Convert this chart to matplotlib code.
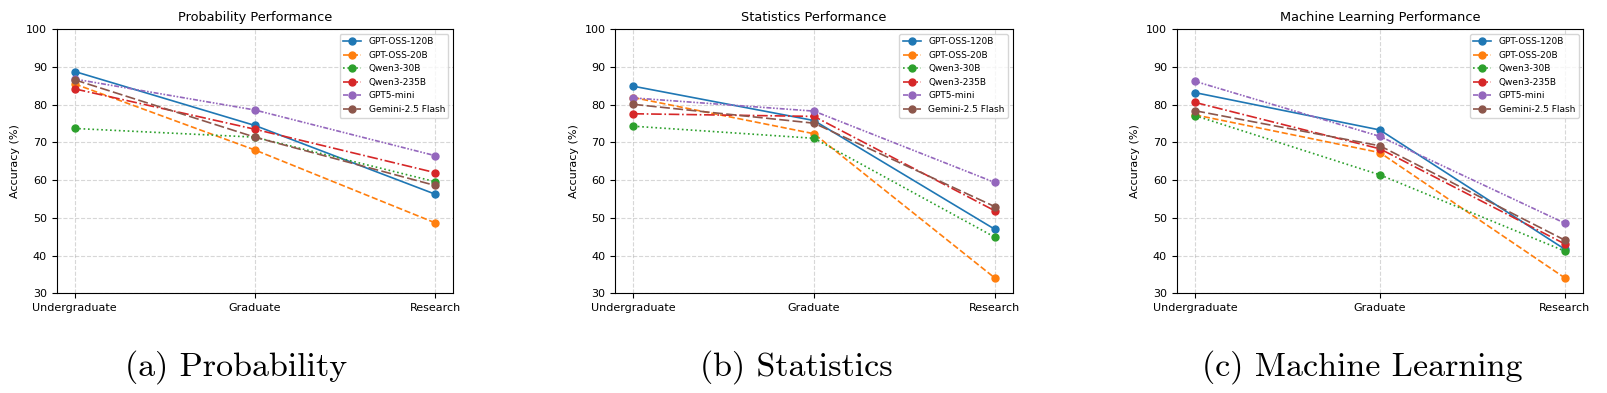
import numpy as np
import matplotlib
matplotlib.use("Agg")
import matplotlib.pyplot as plt

# Datos
niveles = ["Undergraduate", "Graduate", "Research"]
modelos = ["GPT-OSS-120B", "GPT-OSS-20B", "Qwen3-30B", "Qwen3-235B", "GPT5-mini", "Gemini-2.5 Flash"]

prob_120b   = [88.8, 74.5, 56.3]
prob_20b    = [85.5, 68.0, 48.7]
prob_q30b   = [73.7, 71.4, 59.6]
prob_q235b  = [84.2, 73.5, 62.0]
prob_gpt5m  = [86.8, 78.6, 66.5]
prob_gemini = [86.6, 71.4, 58.6]

stat_120b   = [84.9, 75.8, 47.0]
stat_20b    = [81.9, 72.3, 34.1]
stat_q30b   = [74.3, 71.1, 44.9]
stat_q235b  = [77.6, 76.9, 51.9]
stat_gpt5m  = [81.8, 78.3, 59.4]
stat_gemini = [80.1, 75.1, 53.0]

ml_120b   = [83.2, 73.3, 41.7]
ml_20b    = [77.3, 67.3, 34.1]
ml_q30b   = [77.1, 61.4, 41.2]
ml_q235b  = [80.6, 68.3, 43.1]
ml_gpt5m  = [86.2, 71.6, 48.6]
ml_gemini = [78.4, 69.1, 44.1]

titulos = ["Probability Performance", "Statistics Performance", "Machine Learning Performance"]
captions = ["(a) Probability", "(b) Statistics", "(c) Machine Learning"]

datos = [
    [prob_120b, prob_20b, prob_q30b, prob_q235b, prob_gpt5m, prob_gemini],
    [stat_120b, stat_20b, stat_q30b, stat_q235b, stat_gpt5m, stat_gemini],
    [ml_120b, ml_20b, ml_q30b, ml_q235b, ml_gpt5m, ml_gemini],
]

colores = ["#1f77b4", "#ff7f0e", "#2ca02c", "#d62728", "#9467bd", "#8c564b"]
estilos = ["-", "--", ":", "-.", (0, (3, 1, 1, 1, 1, 1)), (0, (6, 2))]

fig = plt.figure(figsize=(16.07, 3.93), dpi=100)

# posiciones de los ejes (fraccion de figura)
pos = [
    [0.0353, 0.2537, 0.2466, 0.6718],
    [0.3829, 0.2537, 0.2473, 0.6718],
    [0.7322, 0.2537, 0.2530, 0.6718],
]
cap_x = [236 / 1607, 796 / 1607, 1362 / 1607]

x = np.arange(len(niveles))
for i in range(3):
    ax = fig.add_axes(pos[i])
    for serie, nombre, c, ls in zip(datos[i], modelos, colores, estilos):
        ax.plot(x, serie, color=c, linestyle=ls, marker="o", markersize=5, linewidth=1.2, label=nombre)
    ax.set_xlim(-0.1, 2.1)
    ax.set_ylim(30, 100)
    ax.set_xticks(x)
    ax.set_xticklabels(niveles, fontsize=8)
    ax.tick_params(axis="y", labelsize=8)
    ax.set_ylabel("Accuracy (%)", fontsize=8)
    ax.set_title(titulos[i], fontsize=9.3)
    ax.grid(True, linestyle="--", alpha=0.5)
    ax.legend(loc="upper right", fontsize=6.5)
    fig.text(cap_x[i], 0.065, captions[i], ha="center", va="center", fontsize=24.5, family="cmr10")

fig.savefig("out.png", dpi=100)
